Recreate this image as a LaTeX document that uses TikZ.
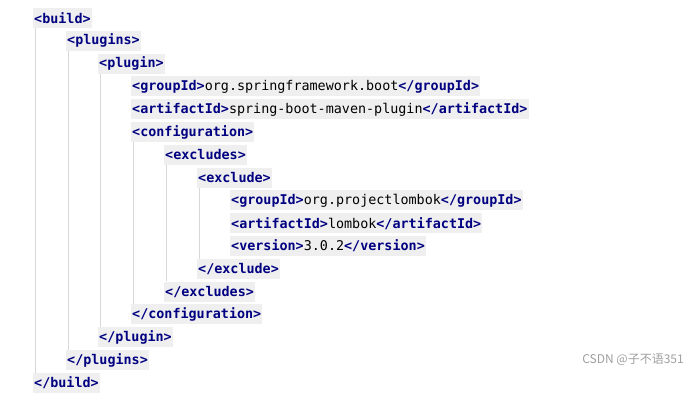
\documentclass[tikz,border=0pt]{standalone}
\usepackage{fontspec}
\setmonofont{DejaVu Sans Mono}
\newfontfamily\cjk{Noto Sans CJK SC}
\definecolor{tagc}{HTML}{000080}
\definecolor{bgc}{HTML}{EFEFEF}
\definecolor{guide}{HTML}{D8D8D8}
\newcommand{\tg}[1]{\textcolor{tagc}{\textbf{#1}}}
\begin{document}
\begin{tikzpicture}[x=1pt,y=1pt,
  ln/.style={anchor=west,fill=bgc,inner xsep=1pt,inner ysep=0pt,minimum height=20pt,
    font=\fontsize{13.4}{15}\selectfont\ttfamily},
  gd/.style={draw=guide,line width=0.8pt}]
\useasboundingbox (0,0) rectangle (692,402);
\def\r#1{402-18-22.8*(#1-1)}
\node[ln] (l1) at (33,{\r1}) {\tg{<build>}};
\node[ln] (l2) at (66,{\r2}) {\tg{<plugins>}};
\node[ln] (l3) at (98,{\r3}) {\tg{<plugin>}};
\node[ln] (l4) at (131,{\r4}) {\tg{<groupId>}org.springframework.boot\tg{</groupId>}};
\node[ln] (l5) at (131,{\r5}) {\tg{<artifactId>}spring-boot-maven-plugin\tg{</artifactId>}};
\node[ln] (l6) at (131,{\r6}) {\tg{<configuration>}};
\node[ln] (l7) at (164,{\r7}) {\tg{<excludes>}};
\node[ln] (l8) at (197,{\r8}) {\tg{<exclude>}};
\node[ln] (l9) at (230,{\r9}) {\tg{<groupId>}org.projectlombok\tg{</groupId>}};
\node[ln] (l10) at (230,{\r{10}}) {\tg{<artifactId>}lombok\tg{</artifactId>}};
\node[ln] (l11) at (230,{\r{11}}) {\tg{<version>}3.0.2\tg{</version>}};
\node[ln] (l12) at (197,{\r{12}}) {\tg{</exclude>}};
\node[ln] (l13) at (164,{\r{13}}) {\tg{</excludes>}};
\node[ln] (l14) at (131,{\r{14}}) {\tg{</configuration>}};
\node[ln] (l15) at (98,{\r{15}}) {\tg{</plugin>}};
\node[ln] (l16) at (66,{\r{16}}) {\tg{</plugins>}};
\node[ln] (l17) at (33,{\r{17}}) {\tg{</build>}};
\foreach \a/\b in {l1/l17,l2/l16,l3/l15,l6/l14,l7/l13,l8/l12}
  \draw[gd] ([xshift=2pt]\a.south west) -- ([xshift=2pt]\a.south west |- \b.north);
\node[anchor=east,text=gray!75,font=\cjk\fontsize{12}{14}\selectfont,inner sep=0pt] (wm) at (684,42) {CSDN @子不语351};
\end{tikzpicture}
\end{document}
